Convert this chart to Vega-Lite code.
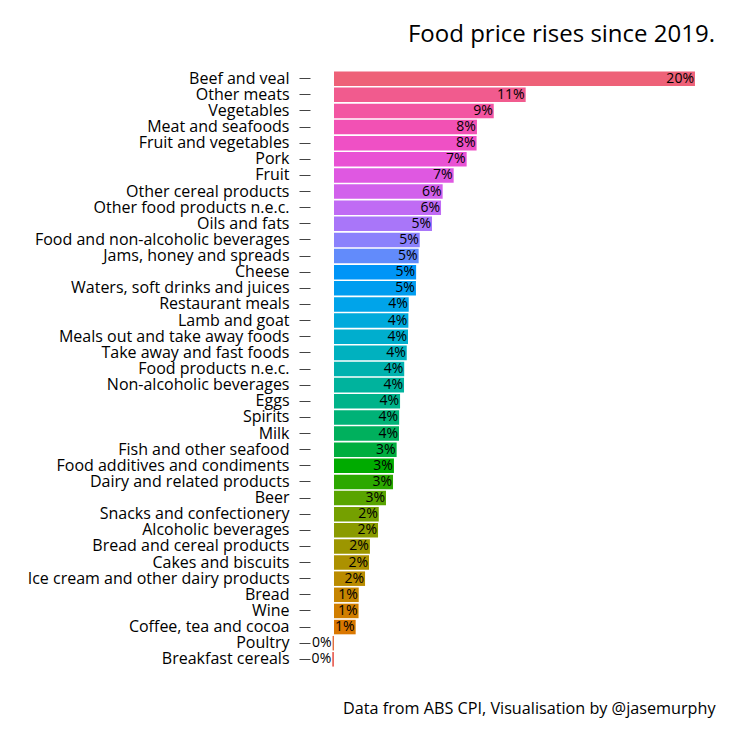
{
  "$schema": "https://vega.github.io/schema/vega-lite/v6.json",
  "autosize": {"type": "none"},
  "padding": {"left": 310, "top": 69, "right": 25, "bottom": 71},
  "width": 405,
  "height": 600,
  "background": "white",
  "title": {
    "text": "Food price rises since 2019.",
    "anchor": "end",
    "font": "Open Sans",
    "fontSize": 24,
    "fontWeight": "normal",
    "color": "#000000",
    "offset": 22
  },
  "data": {
    "values": [
      {"category": "Beef and veal", "rise": 0.2},
      {"category": "Other meats", "rise": 0.1062},
      {"category": "Vegetables", "rise": 0.0885},
      {"category": "Meat and seafoods", "rise": 0.0792},
      {"category": "Fruit and vegetables", "rise": 0.079},
      {"category": "Pork", "rise": 0.0735},
      {"category": "Fruit", "rise": 0.0663},
      {"category": "Other cereal products", "rise": 0.0602},
      {"category": "Other food products n.e.c.", "rise": 0.0593},
      {"category": "Oils and fats", "rise": 0.0543},
      {"category": "Food and non-alcoholic beverages", "rise": 0.0475},
      {"category": "Jams, honey and spreads", "rise": 0.0469},
      {"category": "Cheese", "rise": 0.0455},
      {"category": "Waters, soft drinks and juices", "rise": 0.0454},
      {"category": "Restaurant meals", "rise": 0.0414},
      {"category": "Lamb and goat", "rise": 0.0412},
      {"category": "Meals out and take away foods", "rise": 0.041},
      {"category": "Take away and fast foods", "rise": 0.0403},
      {"category": "Food products n.e.c.", "rise": 0.0389},
      {"category": "Non-alcoholic beverages", "rise": 0.0388},
      {"category": "Eggs", "rise": 0.0366},
      {"category": "Spirits", "rise": 0.0361},
      {"category": "Milk", "rise": 0.036},
      {"category": "Fish and other seafood", "rise": 0.0347},
      {"category": "Food additives and condiments", "rise": 0.0332},
      {"category": "Dairy and related products", "rise": 0.0327},
      {"category": "Beer", "rise": 0.0288},
      {"category": "Snacks and confectionery", "rise": 0.0248},
      {"category": "Alcoholic beverages", "rise": 0.0244},
      {"category": "Bread and cereal products", "rise": 0.0199},
      {"category": "Cakes and biscuits", "rise": 0.0194},
      {"category": "Ice cream and other dairy products", "rise": 0.0172},
      {"category": "Bread", "rise": 0.0137},
      {"category": "Wine", "rise": 0.0136},
      {"category": "Coffee, tea and cocoa", "rise": 0.012},
      {"category": "Poultry", "rise": -0.0008},
      {"category": "Breakfast cereals", "rise": -0.001}
    ]
  },
  "encoding": {
    "y": {
      "field": "category",
      "type": "nominal",
      "sort": ["Beef and veal", "Other meats", "Vegetables", "Meat and seafoods", "Fruit and vegetables", "Pork", "Fruit", "Other cereal products", "Other food products n.e.c.", "Oils and fats", "Food and non-alcoholic beverages", "Jams, honey and spreads", "Cheese", "Waters, soft drinks and juices", "Restaurant meals", "Lamb and goat", "Meals out and take away foods", "Take away and fast foods", "Food products n.e.c.", "Non-alcoholic beverages", "Eggs", "Spirits", "Milk", "Fish and other seafood", "Food additives and condiments", "Dairy and related products", "Beer", "Snacks and confectionery", "Alcoholic beverages", "Bread and cereal products", "Cakes and biscuits", "Ice cream and other dairy products", "Bread", "Wine", "Coffee, tea and cocoa", "Poultry", "Breakfast cereals"],
      "scale": {"paddingInner": 0.1, "paddingOuter": 0.15},
      "axis": {
        "title": null,
        "domain": false,
        "grid": false,
        "ticks": true,
        "tickSize": 11,
        "tickColor": "#444444",
        "tickWidth": 1,
        "labelPadding": 10,
        "labelLimit": 400,
        "labelFont": "Open Sans",
        "labelFontSize": 16,
        "labelColor": "#000000"
      }
    },
    "x": {
      "field": "rise",
      "type": "quantitative",
      "scale": {"domain": [-0.0133, 0.2111], "nice": false, "zero": false},
      "axis": {
        "title": "Data from ABS CPI, Visualisation by @jasemurphy",
        "titleAnchor": "end",
        "titleFont": "Open Sans",
        "titleFontSize": 16.2,
        "titleFontWeight": "normal",
        "titleColor": "#000000",
        "titlePadding": 31,
        "labels": false,
        "ticks": false,
        "domain": false,
        "grid": false
      }
    }
  },
  "layer": [
    {
      "mark": {"type": "bar", "orient": "horizontal"},
      "encoding": {
        "x2": {"datum": 0},
        "color": {
          "field": "category",
          "type": "nominal",
          "legend": null,
          "scale": {
            "domain": ["Beef and veal", "Other meats", "Vegetables", "Meat and seafoods", "Fruit and vegetables", "Pork", "Fruit", "Other cereal products", "Other food products n.e.c.", "Oils and fats", "Food and non-alcoholic beverages", "Jams, honey and spreads", "Cheese", "Waters, soft drinks and juices", "Restaurant meals", "Lamb and goat", "Meals out and take away foods", "Take away and fast foods", "Food products n.e.c.", "Non-alcoholic beverages", "Eggs", "Spirits", "Milk", "Fish and other seafood", "Food additives and condiments", "Dairy and related products", "Beer", "Snacks and confectionery", "Alcoholic beverages", "Bread and cereal products", "Cakes and biscuits", "Ice cream and other dairy products", "Bread", "Wine", "Coffee, tea and cocoa", "Poultry", "Breakfast cereals"],
            "range": ["#EE6178", "#F15B8E", "#F355A2", "#F251B4", "#EF50C5", "#E952D4", "#DF58E1", "#D260EC", "#C06BF4", "#A976F9", "#8B81FC", "#628BFB", "#0095F7", "#009DF0", "#00A4EA", "#00AADC", "#00AECE", "#00B1BF", "#00B2AF", "#00B39D", "#00B38A", "#00B277", "#00B05D", "#00AE3F", "#00AB00", "#2CA800", "#59A400", "#75A000", "#8A9B00", "#9C9600", "#AC9100", "#BA8B00", "#C68500", "#D17E00", "#DA7700", "#E27040", "#E9695F"]
          }
        }
      }
    },
    {
      "mark": {"type": "text", "align": "right", "baseline": "middle", "dx": -1, "font": "Open Sans", "fontSize": 14, "color": "#000000"},
      "encoding": {
        "text": {"field": "rise", "type": "quantitative", "format": ".0%"}
      }
    }
  ],
  "config": {"view": {"stroke": null}}
}
